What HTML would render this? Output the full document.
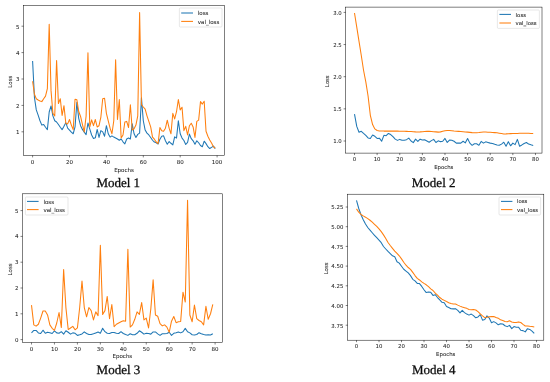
<!DOCTYPE html>
<html lang="en"><head><meta charset="utf-8"><title>Loss curves – Models 1–4</title>
<style>html,body{margin:0;padding:0;background:#fff}body{width:550px;height:382px;overflow:hidden}svg{display:block;filter:blur(0.3px)}.t{font-family:"DejaVu Sans","Liberation Sans",sans-serif;fill:#222;stroke:#222;stroke-width:0.05px;text-rendering:geometricPrecision}.m{font-family:"Liberation Serif","DejaVu Serif",serif;fill:#0c0c0c;stroke:#0c0c0c;stroke-width:0.28px;font-size:13px;text-rendering:geometricPrecision}</style></head><body>
<svg width="550" height="382" viewBox="0 0 550 382">
<rect width="550" height="382" fill="#fff"/>
<g>
<polyline fill="none" stroke="#1f77b4" stroke-width="1.05" stroke-linejoin="round" stroke-linecap="butt" points="32.60,61.05 34.45,97.48 36.29,109.89 38.14,115.17 39.98,120.76 41.83,125.09 43.67,124.49 45.52,127.21 47.36,129.66 49.20,112.00 51.05,105.93 52.89,115.83 54.74,120.76 56.59,122.01 58.43,124.49 60.28,127.21 62.12,129.66 63.97,126.34 65.81,122.61 67.66,128.18 69.50,130.03 71.34,132.14 73.19,133.75 75.03,126.94 76.88,102.23 78.72,118.34 80.57,125.73 82.41,129.42 84.26,132.14 86.11,134.62 87.95,122.98 89.80,129.16 91.64,134.97 93.48,138.40 95.33,137.87 97.18,129.42 99.02,137.45 100.87,130.66 102.71,131.88 104.56,136.21 106.40,125.70 108.25,133.75 110.09,137.08 111.94,135.84 113.78,137.08 115.62,138.08 117.47,139.06 119.31,140.30 121.16,139.06 123.00,141.78 124.85,143.89 126.69,139.06 128.54,138.08 130.38,139.06 132.23,123.88 134.07,133.75 135.92,137.45 137.76,134.36 139.61,133.12 141.46,97.74 143.30,120.76 145.15,130.03 146.99,133.12 148.84,134.97 150.68,137.45 152.53,140.25 154.37,142.10 156.22,142.76 158.06,144.00 159.91,139.30 161.75,136.21 163.59,135.84 165.44,140.78 167.28,144.26 169.13,141.54 170.97,143.26 172.82,144.87 174.66,136.84 176.51,138.08 178.35,120.76 180.20,133.75 182.04,138.08 183.89,140.54 185.73,144.50 187.58,142.39 189.42,134.12 191.27,138.69 193.11,140.78 194.96,144.26 196.80,140.78 198.65,142.76 200.50,145.48 202.34,146.72 204.19,141.17 206.03,143.63 207.88,146.72 209.72,148.56 211.56,147.35 213.41,146.11 215.25,148.56"/>
<polyline fill="none" stroke="#ff7f0e" stroke-width="1.05" stroke-linejoin="round" stroke-linecap="butt" points="32.60,81.24 34.45,94.21 36.29,98.80 38.14,100.01 39.98,101.02 41.83,101.62 43.67,98.80 45.52,96.08 47.36,88.66 49.20,24.35 51.05,90.88 52.89,113.32 54.74,116.07 56.59,60.52 58.43,103.55 60.28,98.80 62.12,115.43 63.97,105.66 65.81,123.25 67.66,123.88 69.50,119.52 71.34,125.09 73.19,129.66 75.03,99.17 76.88,99.86 78.72,111.47 80.57,116.49 82.41,124.49 84.26,131.88 86.11,115.96 87.95,52.86 89.80,126.94 91.64,119.79 93.48,125.70 95.33,119.52 97.18,126.94 99.02,125.70 100.87,117.07 102.71,98.80 104.56,98.27 106.40,113.32 108.25,120.76 110.09,128.18 111.94,133.75 113.78,120.76 115.62,59.73 117.47,119.52 119.31,99.54 121.16,138.08 123.00,134.97 124.85,122.01 126.69,121.40 128.54,127.58 130.38,104.71 132.23,130.03 134.07,128.79 135.92,125.09 137.76,115.96 139.61,12.47 141.46,104.61 143.30,106.98 145.15,109.10 146.99,115.83 148.84,121.40 150.68,126.94 152.53,137.08 154.37,139.19 156.22,142.02 158.06,143.63 159.91,127.58 161.75,130.66 163.59,131.27 165.44,128.18 167.28,120.16 169.13,128.18 170.97,133.75 172.82,113.32 174.66,118.92 176.51,111.74 178.35,99.54 180.20,109.89 182.04,107.25 183.89,130.66 185.73,126.34 187.58,134.97 189.42,125.73 191.27,123.25 193.11,126.94 194.96,137.45 196.80,121.40 198.65,120.16 200.50,101.62 202.34,104.08 204.19,101.26 206.03,131.27 207.88,136.21 209.72,139.93 211.56,143.02 213.41,146.72 215.25,148.19"/>
<rect x="23.50" y="5.50" width="201.00" height="149.90" fill="none" stroke="#000" stroke-width="0.50"/>
<path d="M32.60 155.40v2.00M69.50 155.40v2.00M106.40 155.40v2.00M143.30 155.40v2.00M180.20 155.40v2.00M217.10 155.40v2.00M23.50 131.80h-2.00M23.50 105.40h-2.00M23.50 79.00h-2.00M23.50 52.60h-2.00M23.50 26.20h-2.00" stroke="#000" stroke-width="0.50" fill="none"/>
<text class="t" x="32.60" y="163.63" font-size="5.50" text-anchor="middle">0</text>
<text class="t" x="69.50" y="163.63" font-size="5.50" text-anchor="middle">20</text>
<text class="t" x="106.40" y="163.63" font-size="5.50" text-anchor="middle">40</text>
<text class="t" x="143.30" y="163.63" font-size="5.50" text-anchor="middle">60</text>
<text class="t" x="180.20" y="163.63" font-size="5.50" text-anchor="middle">80</text>
<text class="t" x="217.10" y="163.63" font-size="5.50" text-anchor="middle">100</text>
<text class="t" x="19.60" y="134.21" font-size="5.50" text-anchor="end">1</text>
<text class="t" x="19.60" y="107.81" font-size="5.50" text-anchor="end">2</text>
<text class="t" x="19.60" y="81.41" font-size="5.50" text-anchor="end">3</text>
<text class="t" x="19.60" y="55.01" font-size="5.50" text-anchor="end">4</text>
<text class="t" x="19.60" y="28.61" font-size="5.50" text-anchor="end">5</text>
<text class="t" x="124.00" y="172.29" font-size="5.50" text-anchor="middle">Epochs</text>
<text class="t" transform="translate(12.18 81.65) rotate(-90)" font-size="5.50" text-anchor="middle">Loss</text>
<rect x="179.40" y="8.00" width="42.60" height="19.00" rx="1" ry="1" fill="#fff" fill-opacity="0.8" stroke="#ccc" stroke-width="0.45"/>
<path d="M181.20 13.00H193.00" stroke="#1f77b4" stroke-width="1.05"/>
<path d="M181.20 21.40H193.00" stroke="#ff7f0e" stroke-width="1.05"/>
<text class="t" x="197.80" y="15.48" font-size="5.50">loss</text>
<text class="t" x="197.80" y="24.18" font-size="5.50">val_loss</text>
<text class="m" x="96.40" y="187.00">Model 1</text>
</g>
<g>
<polyline fill="none" stroke="#1f77b4" stroke-width="1.05" stroke-linejoin="round" stroke-linecap="butt" points="354.50,114.06 356.76,126.40 359.02,132.26 361.29,131.36 363.55,133.48 365.81,135.47 368.07,137.91 370.33,138.43 372.60,135.08 374.86,136.31 377.12,138.43 379.38,138.17 381.64,141.26 383.91,135.34 386.17,135.66 388.43,133.48 390.69,134.57 392.95,136.69 395.22,139.14 397.48,140.36 399.74,139.39 402.00,140.23 404.26,140.23 406.53,139.65 408.79,138.17 411.05,141.00 413.31,142.61 415.57,139.14 417.84,141.39 420.10,139.14 422.36,140.04 424.62,139.78 426.88,141.00 429.15,142.22 431.41,140.61 433.67,139.39 435.93,142.48 438.19,140.87 440.46,141.64 442.72,141.26 444.98,138.43 447.24,142.48 449.50,140.04 451.77,140.23 454.03,141.26 456.29,143.12 458.55,143.12 460.81,143.12 463.08,141.26 465.34,142.86 467.60,138.43 469.86,143.12 472.12,145.31 474.39,143.70 476.65,143.70 478.91,145.31 481.17,141.39 483.43,143.12 485.70,141.84 487.96,142.48 490.22,143.12 492.48,143.44 494.74,144.34 497.01,145.05 499.27,145.31 501.53,144.09 503.79,142.22 506.05,146.21 508.32,141.64 510.58,145.82 512.84,143.12 515.10,144.60 517.36,139.39 519.63,146.21 521.89,144.92 524.15,143.44 526.41,142.48 528.67,144.09 530.94,144.86 533.20,145.57"/>
<polyline fill="none" stroke="#ff7f0e" stroke-width="1.05" stroke-linejoin="round" stroke-linecap="butt" points="354.50,13.04 356.76,27.19 359.02,41.34 361.29,55.48 363.55,70.27 365.81,81.84 368.07,95.99 370.33,115.28 372.60,124.54 374.86,128.91 377.12,130.52 379.38,130.97 381.64,131.03 383.91,131.10 386.17,131.10 388.43,131.10 390.69,131.10 392.95,131.10 395.22,131.10 397.48,131.10 399.74,131.16 402.00,131.23 404.26,131.29 406.53,131.36 408.79,131.42 411.05,131.55 413.31,131.68 415.57,131.87 417.84,132.00 420.10,131.87 422.36,131.68 424.62,131.48 426.88,131.36 429.15,131.36 431.41,131.48 433.67,131.68 435.93,131.87 438.19,132.13 440.46,131.87 442.72,131.36 444.98,130.84 447.24,130.52 449.50,130.52 451.77,130.71 454.03,130.97 456.29,131.16 458.55,131.36 460.81,131.55 463.08,131.74 465.34,131.93 467.60,132.13 469.86,132.38 472.12,132.64 474.39,132.83 476.65,132.77 478.91,132.58 481.17,132.26 483.43,132.00 485.70,132.06 487.96,132.19 490.22,132.32 492.48,132.45 494.74,132.64 497.01,132.83 499.27,133.16 501.53,133.54 503.79,133.93 506.05,133.86 508.32,133.73 510.58,133.61 512.84,133.54 515.10,133.48 517.36,133.41 519.63,133.35 521.89,133.28 524.15,133.28 526.41,133.22 528.67,133.28 530.94,133.41 533.20,133.48"/>
<rect x="345.60" y="7.10" width="196.40" height="146.00" fill="none" stroke="#000" stroke-width="0.50"/>
<path d="M354.50 153.10v2.00M377.12 153.10v2.00M399.74 153.10v2.00M422.36 153.10v2.00M444.98 153.10v2.00M467.60 153.10v2.00M490.22 153.10v2.00M512.84 153.10v2.00M535.46 153.10v2.00M345.60 141.00h-2.00M345.60 108.85h-2.00M345.60 76.70h-2.00M345.60 44.55h-2.00M345.60 12.40h-2.00" stroke="#000" stroke-width="0.50" fill="none"/>
<text class="t" x="354.50" y="161.24" font-size="5.38" text-anchor="middle">0</text>
<text class="t" x="377.12" y="161.24" font-size="5.38" text-anchor="middle">10</text>
<text class="t" x="399.74" y="161.24" font-size="5.38" text-anchor="middle">20</text>
<text class="t" x="422.36" y="161.24" font-size="5.38" text-anchor="middle">30</text>
<text class="t" x="444.98" y="161.24" font-size="5.38" text-anchor="middle">40</text>
<text class="t" x="467.60" y="161.24" font-size="5.38" text-anchor="middle">50</text>
<text class="t" x="490.22" y="161.24" font-size="5.38" text-anchor="middle">60</text>
<text class="t" x="512.84" y="161.24" font-size="5.38" text-anchor="middle">70</text>
<text class="t" x="535.46" y="161.24" font-size="5.38" text-anchor="middle">80</text>
<text class="t" x="341.70" y="143.36" font-size="5.38" text-anchor="end">1.0</text>
<text class="t" x="341.70" y="111.21" font-size="5.38" text-anchor="end">1.5</text>
<text class="t" x="341.70" y="79.06" font-size="5.38" text-anchor="end">2.0</text>
<text class="t" x="341.70" y="46.91" font-size="5.38" text-anchor="end">2.5</text>
<text class="t" x="341.70" y="14.76" font-size="5.38" text-anchor="end">3.0</text>
<text class="t" x="443.80" y="169.13" font-size="5.38" text-anchor="middle">Epochs</text>
<text class="t" transform="translate(329.34 81.30) rotate(-90)" font-size="5.38" text-anchor="middle">Loss</text>
<rect x="497.40" y="10.00" width="42.00" height="18.40" rx="1" ry="1" fill="#fff" fill-opacity="0.8" stroke="#ccc" stroke-width="0.45"/>
<path d="M499.40 14.40H511.00" stroke="#1f77b4" stroke-width="1.05"/>
<path d="M499.40 23.00H511.00" stroke="#ff7f0e" stroke-width="1.05"/>
<text class="t" x="515.60" y="16.64" font-size="5.38">loss</text>
<text class="t" x="515.60" y="25.14" font-size="5.38">val_loss</text>
<text class="m" x="411.80" y="187.00">Model 2</text>
</g>
<g>
<polyline fill="none" stroke="#1f77b4" stroke-width="1.05" stroke-linejoin="round" stroke-linecap="butt" points="31.50,332.89 33.80,330.44 36.09,330.44 38.38,332.89 40.68,333.51 42.98,330.18 45.27,333.28 47.56,332.27 49.86,332.66 52.16,333.51 54.45,330.80 56.74,332.89 59.04,333.28 61.34,331.68 63.63,334.13 65.92,330.80 68.22,332.27 70.52,334.13 72.81,332.89 75.10,333.28 77.40,335.37 79.69,334.75 81.99,333.90 84.28,331.91 86.58,333.51 88.88,334.52 91.17,334.52 93.47,333.77 95.76,332.89 98.05,332.04 100.35,333.28 102.64,328.33 104.94,331.68 107.23,333.28 109.53,333.51 111.83,332.53 114.12,332.53 116.41,333.28 118.71,333.51 121.00,331.68 123.30,333.51 125.59,334.52 127.89,335.37 130.19,333.77 132.48,334.75 134.77,334.75 137.07,333.28 139.37,330.80 141.66,332.27 143.95,334.13 146.25,333.28 148.55,333.51 150.84,334.13 153.13,331.91 155.43,331.91 157.72,333.82 160.02,335.37 162.31,333.77 164.61,333.77 166.91,333.51 169.20,332.27 171.50,335.37 173.79,333.28 176.09,332.66 178.38,331.91 180.67,332.89 182.97,331.68 185.26,328.33 187.56,331.68 189.85,332.89 192.15,334.75 194.44,335.01 196.74,334.52 199.03,332.66 201.33,333.77 203.62,334.52 205.92,335.01 208.22,334.75 210.51,335.01 212.81,333.77"/>
<polyline fill="none" stroke="#ff7f0e" stroke-width="1.05" stroke-linejoin="round" stroke-linecap="butt" points="31.50,305.08 33.80,324.87 36.09,326.11 38.38,324.25 40.68,318.06 42.98,311.01 45.27,311.01 47.56,314.99 49.86,324.87 52.16,328.33 54.45,330.44 56.74,323.01 59.04,312.51 61.34,327.58 63.63,269.42 65.92,307.87 68.22,329.56 70.52,327.96 72.81,326.34 75.10,329.82 77.40,327.96 79.69,307.56 81.99,281.11 84.28,307.56 86.58,316.84 88.88,307.56 91.17,310.65 93.47,319.91 95.76,311.89 98.05,315.61 100.35,245.17 102.64,314.37 104.94,310.65 107.23,296.44 109.53,318.68 111.83,304.46 114.12,326.73 116.41,324.25 118.71,323.01 121.00,321.77 123.30,320.79 125.59,321.15 127.89,249.30 130.19,327.09 132.48,324.87 134.77,319.30 137.07,311.89 139.37,314.37 141.66,302.60 143.95,319.91 146.25,318.06 148.55,327.96 150.84,308.64 153.13,279.87 155.43,314.99 157.72,316.23 160.02,323.63 162.31,325.85 164.61,324.87 166.91,327.09 169.20,332.27 171.50,321.15 173.79,316.46 176.09,322.65 178.38,321.77 180.67,321.41 182.97,292.23 185.26,302.01 187.56,200.28 189.85,314.99 192.15,321.77 194.44,305.08 196.74,318.68 199.03,320.53 201.33,321.77 203.62,324.87 205.92,306.32 208.22,319.30 210.51,313.75 212.81,304.46"/>
<rect x="22.50" y="193.80" width="199.80" height="148.70" fill="none" stroke="#000" stroke-width="0.50"/>
<path d="M31.50 342.50v2.00M54.45 342.50v2.00M77.40 342.50v2.00M100.35 342.50v2.00M123.30 342.50v2.00M146.25 342.50v2.00M169.20 342.50v2.00M192.15 342.50v2.00M215.10 342.50v2.00M22.50 339.60h-2.00M22.50 313.80h-2.00M22.50 288.00h-2.00M22.50 262.20h-2.00M22.50 236.40h-2.00M22.50 210.60h-2.00" stroke="#000" stroke-width="0.50" fill="none"/>
<text class="t" x="31.50" y="350.73" font-size="5.50" text-anchor="middle">0</text>
<text class="t" x="54.45" y="350.73" font-size="5.50" text-anchor="middle">10</text>
<text class="t" x="77.40" y="350.73" font-size="5.50" text-anchor="middle">20</text>
<text class="t" x="100.35" y="350.73" font-size="5.50" text-anchor="middle">30</text>
<text class="t" x="123.30" y="350.73" font-size="5.50" text-anchor="middle">40</text>
<text class="t" x="146.25" y="350.73" font-size="5.50" text-anchor="middle">50</text>
<text class="t" x="169.20" y="350.73" font-size="5.50" text-anchor="middle">60</text>
<text class="t" x="192.15" y="350.73" font-size="5.50" text-anchor="middle">70</text>
<text class="t" x="215.10" y="350.73" font-size="5.50" text-anchor="middle">80</text>
<text class="t" x="18.60" y="341.61" font-size="5.50" text-anchor="end">0</text>
<text class="t" x="18.60" y="315.81" font-size="5.50" text-anchor="end">1</text>
<text class="t" x="18.60" y="290.01" font-size="5.50" text-anchor="end">2</text>
<text class="t" x="18.60" y="264.21" font-size="5.50" text-anchor="end">3</text>
<text class="t" x="18.60" y="238.41" font-size="5.50" text-anchor="end">4</text>
<text class="t" x="18.60" y="212.61" font-size="5.50" text-anchor="end">5</text>
<text class="t" x="122.40" y="358.29" font-size="5.50" text-anchor="middle">Epochs</text>
<text class="t" transform="translate(11.78 269.35) rotate(-90)" font-size="5.50" text-anchor="middle">Loss</text>
<rect x="25.40" y="197.00" width="42.60" height="18.00" rx="1" ry="1" fill="#fff" fill-opacity="0.8" stroke="#ccc" stroke-width="0.45"/>
<path d="M27.00 201.40H38.60" stroke="#1f77b4" stroke-width="1.05"/>
<path d="M27.00 209.60H38.60" stroke="#ff7f0e" stroke-width="1.05"/>
<text class="t" x="43.40" y="203.58" font-size="5.50">loss</text>
<text class="t" x="43.40" y="211.98" font-size="5.50">val_loss</text>
<text class="m" x="96.60" y="374.00">Model 3</text>
</g>
<g>
<polyline fill="none" stroke="#1f77b4" stroke-width="1.05" stroke-linejoin="round" stroke-linecap="butt" points="356.50,200.46 358.75,208.50 361.00,214.72 363.25,219.69 365.50,223.94 367.75,227.49 370.00,230.17 372.25,232.77 374.50,235.29 376.75,237.73 379.00,240.10 381.25,242.70 383.50,246.48 385.75,249.00 388.00,251.44 390.25,253.65 392.50,255.78 394.75,256.80 397.00,261.69 399.25,263.18 401.50,266.26 403.75,269.25 406.00,271.14 408.25,272.96 410.50,275.63 412.75,279.34 415.00,280.84 417.25,283.36 419.50,283.59 421.75,286.43 424.00,289.74 426.25,292.58 428.50,291.95 430.75,292.34 433.00,295.41 435.25,294.70 437.50,297.54 439.75,299.98 442.00,302.27 444.25,302.82 446.50,306.45 448.75,307.55 451.00,308.73 453.25,308.89 455.50,308.65 457.75,310.39 460.00,312.83 462.25,310.39 464.50,312.59 466.75,314.09 469.00,315.11 471.25,314.09 473.50,315.59 475.75,317.79 478.00,316.93 480.25,314.64 482.50,320.16 484.75,319.45 487.00,315.90 489.25,318.03 491.50,322.76 493.75,321.65 496.00,322.91 498.25,324.81 500.50,323.70 502.75,324.02 505.00,325.75 507.25,326.62 509.50,325.36 511.75,328.67 514.00,326.54 516.25,327.17 518.50,327.17 520.75,330.24 523.00,330.64 525.25,331.90 527.50,328.67 529.75,329.38 532.00,331.11 534.25,333.40"/>
<polyline fill="none" stroke="#ff7f0e" stroke-width="1.05" stroke-linejoin="round" stroke-linecap="butt" points="356.50,208.89 358.75,212.20 361.00,214.49 363.25,215.90 365.50,217.17 367.75,218.66 370.00,220.24 372.25,222.13 374.50,224.26 376.75,226.46 379.00,228.91 381.25,231.66 383.50,234.90 385.75,238.52 388.00,242.46 390.25,245.53 392.50,248.37 394.75,251.13 397.00,253.33 399.25,255.78 401.50,258.85 403.75,262.24 406.00,265.23 408.25,267.52 410.50,269.41 412.75,272.40 415.00,275.56 417.25,278.39 419.50,279.97 421.75,281.86 424.00,283.36 426.25,284.78 428.50,286.67 430.75,288.87 433.00,290.53 435.25,293.21 437.50,295.10 439.75,297.54 442.00,299.20 444.25,300.38 446.50,301.56 448.75,302.66 451.00,303.53 453.25,304.00 455.50,303.92 457.75,305.11 460.00,306.13 462.25,307.08 464.50,307.71 466.75,308.34 469.00,309.52 471.25,309.76 473.50,309.52 475.75,309.99 478.00,311.65 480.25,313.77 482.50,315.90 484.75,317.56 487.00,317.24 489.25,316.77 491.50,316.53 493.75,316.61 496.00,317.48 498.25,318.19 500.50,319.84 502.75,320.47 505.00,321.42 507.25,321.65 509.50,320.79 511.75,321.97 514.00,322.52 516.25,322.52 518.50,321.89 520.75,322.52 523.00,324.33 525.25,325.99 527.50,325.99 529.75,326.30 532.00,326.54 534.25,326.93"/>
<rect x="347.70" y="194.20" width="196.10" height="146.00" fill="none" stroke="#000" stroke-width="0.50"/>
<path d="M356.50 340.20v2.00M379.00 340.20v2.00M401.50 340.20v2.00M424.00 340.20v2.00M446.50 340.20v2.00M469.00 340.20v2.00M491.50 340.20v2.00M514.00 340.20v2.00M536.50 340.20v2.00M347.70 325.20h-2.00M347.70 305.50h-2.00M347.70 285.80h-2.00M347.70 266.10h-2.00M347.70 246.40h-2.00M347.70 226.70h-2.00M347.70 207.00h-2.00" stroke="#000" stroke-width="0.50" fill="none"/>
<text class="t" x="356.50" y="348.34" font-size="5.38" text-anchor="middle">0</text>
<text class="t" x="379.00" y="348.34" font-size="5.38" text-anchor="middle">10</text>
<text class="t" x="401.50" y="348.34" font-size="5.38" text-anchor="middle">20</text>
<text class="t" x="424.00" y="348.34" font-size="5.38" text-anchor="middle">30</text>
<text class="t" x="446.50" y="348.34" font-size="5.38" text-anchor="middle">40</text>
<text class="t" x="469.00" y="348.34" font-size="5.38" text-anchor="middle">50</text>
<text class="t" x="491.50" y="348.34" font-size="5.38" text-anchor="middle">60</text>
<text class="t" x="514.00" y="348.34" font-size="5.38" text-anchor="middle">70</text>
<text class="t" x="536.50" y="348.34" font-size="5.38" text-anchor="middle">80</text>
<text class="t" x="343.30" y="327.56" font-size="5.38" text-anchor="end">3.75</text>
<text class="t" x="343.30" y="307.86" font-size="5.38" text-anchor="end">4.00</text>
<text class="t" x="343.30" y="288.16" font-size="5.38" text-anchor="end">4.25</text>
<text class="t" x="343.30" y="268.46" font-size="5.38" text-anchor="end">4.50</text>
<text class="t" x="343.30" y="248.76" font-size="5.38" text-anchor="end">4.75</text>
<text class="t" x="343.30" y="229.06" font-size="5.38" text-anchor="end">5.00</text>
<text class="t" x="343.30" y="209.36" font-size="5.38" text-anchor="end">5.25</text>
<text class="t" x="445.75" y="355.93" font-size="5.38" text-anchor="middle">Epochs</text>
<text class="t" transform="translate(327.54 268.40) rotate(-90)" font-size="5.38" text-anchor="middle">Loss</text>
<rect x="499.00" y="197.00" width="41.60" height="18.00" rx="1" ry="1" fill="#fff" fill-opacity="0.8" stroke="#ccc" stroke-width="0.45"/>
<path d="M501.00 201.40H512.40" stroke="#1f77b4" stroke-width="1.05"/>
<path d="M501.00 209.60H512.40" stroke="#ff7f0e" stroke-width="1.05"/>
<text class="t" x="517.00" y="203.44" font-size="5.38">loss</text>
<text class="t" x="517.00" y="211.94" font-size="5.38">val_loss</text>
<text class="m" x="411.90" y="374.00">Model 4</text>
</g>
</svg></body></html>
